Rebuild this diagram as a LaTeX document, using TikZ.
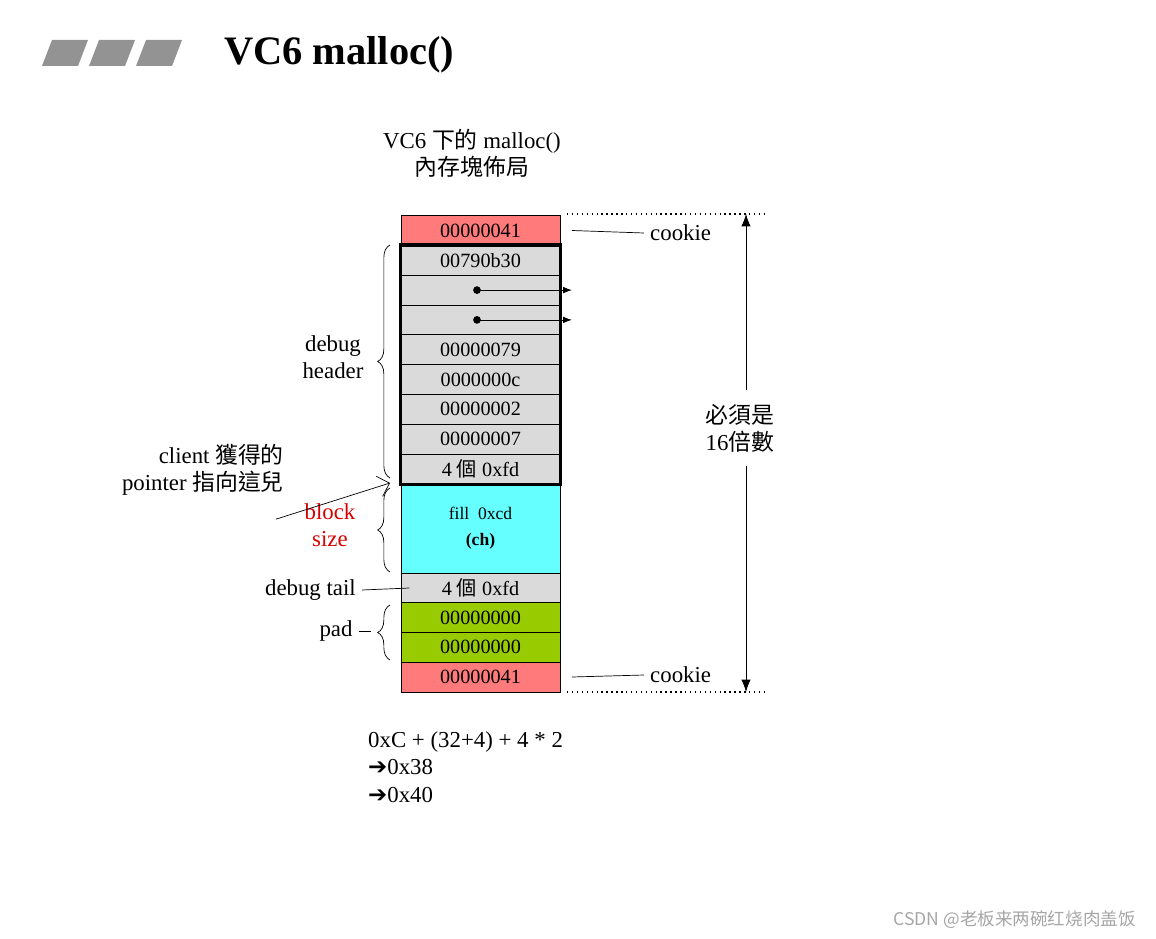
\documentclass[tikz,border=0pt]{standalone}
\usepackage{fontspec}
\setmainfont{Liberation Serif}
\newfontfamily\cjk{Noto Sans CJK TC}
\newfontfamily\cjksc{Noto Sans CJK SC}
\newfontfamily\dejavu{DejaVu Sans}
\usetikzlibrary{decorations.pathreplacing,arrows.meta}
\definecolor{cookiered}{RGB}{255,122,122}
\definecolor{cellgray}{RGB}{218,218,218}
\definecolor{fillcyan}{RGB}{102,255,255}
\definecolor{padgreen}{RGB}{153,204,0}
\tikzset{
  cell/.style={draw, fill=cellgray, minimum width=159*0.02cm, minimum height=30*0.02cm, inner sep=0pt, font=\fontsize{11.5}{12}\selectfont},
  lbl/.style={font=\fontsize{13}{15.5}\selectfont, align=center},
  brc/.style={decorate, decoration={brace, amplitude=7pt}},
}
\begin{document}
\begin{tikzpicture}[x=0.02cm, y=-0.02cm]
    \useasboundingbox (0,0) rectangle (1156,939);
    % Titel
    \foreach \xo in {0,47,94}
        \fill[gray!85] (52+\xo,40) -- (88+\xo,40) -- (78+\xo,66) -- (42+\xo,66) -- cycle;
    \node[anchor=west, font=\fontsize{23}{26}\selectfont\bfseries] (title) at (218,55) {VC6 malloc()};
    \node[lbl] (head) at (472,153) {VC6 {\cjk 下的} malloc()\\{\cjk 內存塊佈局}};

    % Zellen: Name/Inhalt/Farbe
    \foreach \name/\txt/\col [count=\i] in {ck1/00000041/cookiered, r1/00790b30/cellgray, r2/{}/cellgray, r3/{}/cellgray,
        r4/00000079/cellgray, r5/0000000c/cellgray, r6/00000002/cellgray, r7/00000007/cellgray,
        r8/{4 {\cjk 個} 0xfd}/cellgray} {
        \node[cell, fill=\col] (\name) at (480.5, 230.5+29.8*\i-29.8) {\txt};
    }
    \node[cell, fill=fillcyan, minimum height=89*0.02cm, font=\fontsize{10}{15}\selectfont, align=center] (fill) at (480.5,528.5) {fill\ \ 0xcd\\\textbf{(ch)}};
    \node[cell] (tail) at (480.5,588) {4 {\cjk 個} 0xfd};
    \node[cell, fill=padgreen] (p1) at (480.5,617.5) {00000000};
    \node[cell, fill=padgreen] (p2) at (480.5,647) {00000000};
    \node[cell, fill=cookiered] (ck2) at (480.5,677) {00000041};
    \draw[line width=1.8pt] (r1.north west) rectangle (r8.south east);

    % Zeiger in den Zellen
    \foreach \r in {r2,r3} {
        \coordinate (\r a) at ([xshift=-2] \r.center);
        \coordinate (\r b) at ([xshift=52] \r.center);
        \fill (\r a) circle (2.2pt);
        \draw[-{Latex[length=5pt]}] (\r a) -- (\r b);
    }

    % Beschriftungen rechts
    \node[lbl, anchor=west] (cook1) at (644,233) {cookie};
    \node[lbl, anchor=west] (cook2) at (644,675) {cookie};
    \draw ([xshift=52] ck1.center) -- (cook1.west);
    \draw ([xshift=52] ck2.center) -- (cook2.west);
    \coordinate (dt1) at (567,214);
    \coordinate (dt2) at (765,214);
    \coordinate (db1) at (567,692);
    \coordinate (db2) at (765,692);
    \draw[dotted, thick] (dt1) -- (dt2);
    \draw[dotted, thick] (db1) -- (db2);
    \node[lbl] (mult) at (740,428) {{\cjk 必須是}\\16{\cjk 倍數}};
    \coordinate (vt) at (746,214);
    \coordinate (vb) at (746,692);
    \draw[-{Latex[length=7pt]}] (mult.north) ++(6,-8) -- (vt);
    \draw[-{Latex[length=7pt]}] (mult.south) ++(6,8) -- (vb);

    % Klammern links
    \coordinate (b1t) at (390,245); \coordinate (b1b) at (390,478);
    \coordinate (b2t) at (390,488); \coordinate (b2b) at (390,572);
    \coordinate (b3t) at (390,605); \coordinate (b3b) at (390,660);
    \draw[brc] (b1b) -- (b1t);
    \draw[brc] (b2b) -- (b2t);
    \draw[brc] (b3b) -- (b3t);
    \node[lbl] (dbg) at (333,357) {debug\\header};
    \node[lbl, text=red!85!black] (bsz) at (330,525) {block\\size};
    \node[lbl] (pad) at (336,631) {pad};
    \draw (pad.east) -- ++(12,0);
    \node[lbl, anchor=east] (dtail) at (362,590) {debug tail};
    \draw (dtail.east) -- ([xshift=5] tail.west);
    \node[lbl, anchor=east, align=right] (client) at (290,470) {client {\cjk 獲得的}\\pointer {\cjk 指向這兒}};
    \coordinate (ptr) at (390,483);
    \draw[-{Straight Barb[length=6pt]}] ([yshift=-3] client.south east) ++(-14,12) -- (ptr);

    % Rechnung
    \node[lbl, anchor=west, align=left] (calc) at (362,767) {0xC + (32+4) + 4 * 2\\{\dejavu\bfseries ➔}0x38\\{\dejavu\bfseries ➔}0x40};
    \node[anchor=east, text=gray!70, font=\cjksc\fontsize{10}{12}\selectfont] (wm) at (1142,920) {CSDN @老板来两碗红烧肉盖饭};
\end{tikzpicture}
\end{document}
